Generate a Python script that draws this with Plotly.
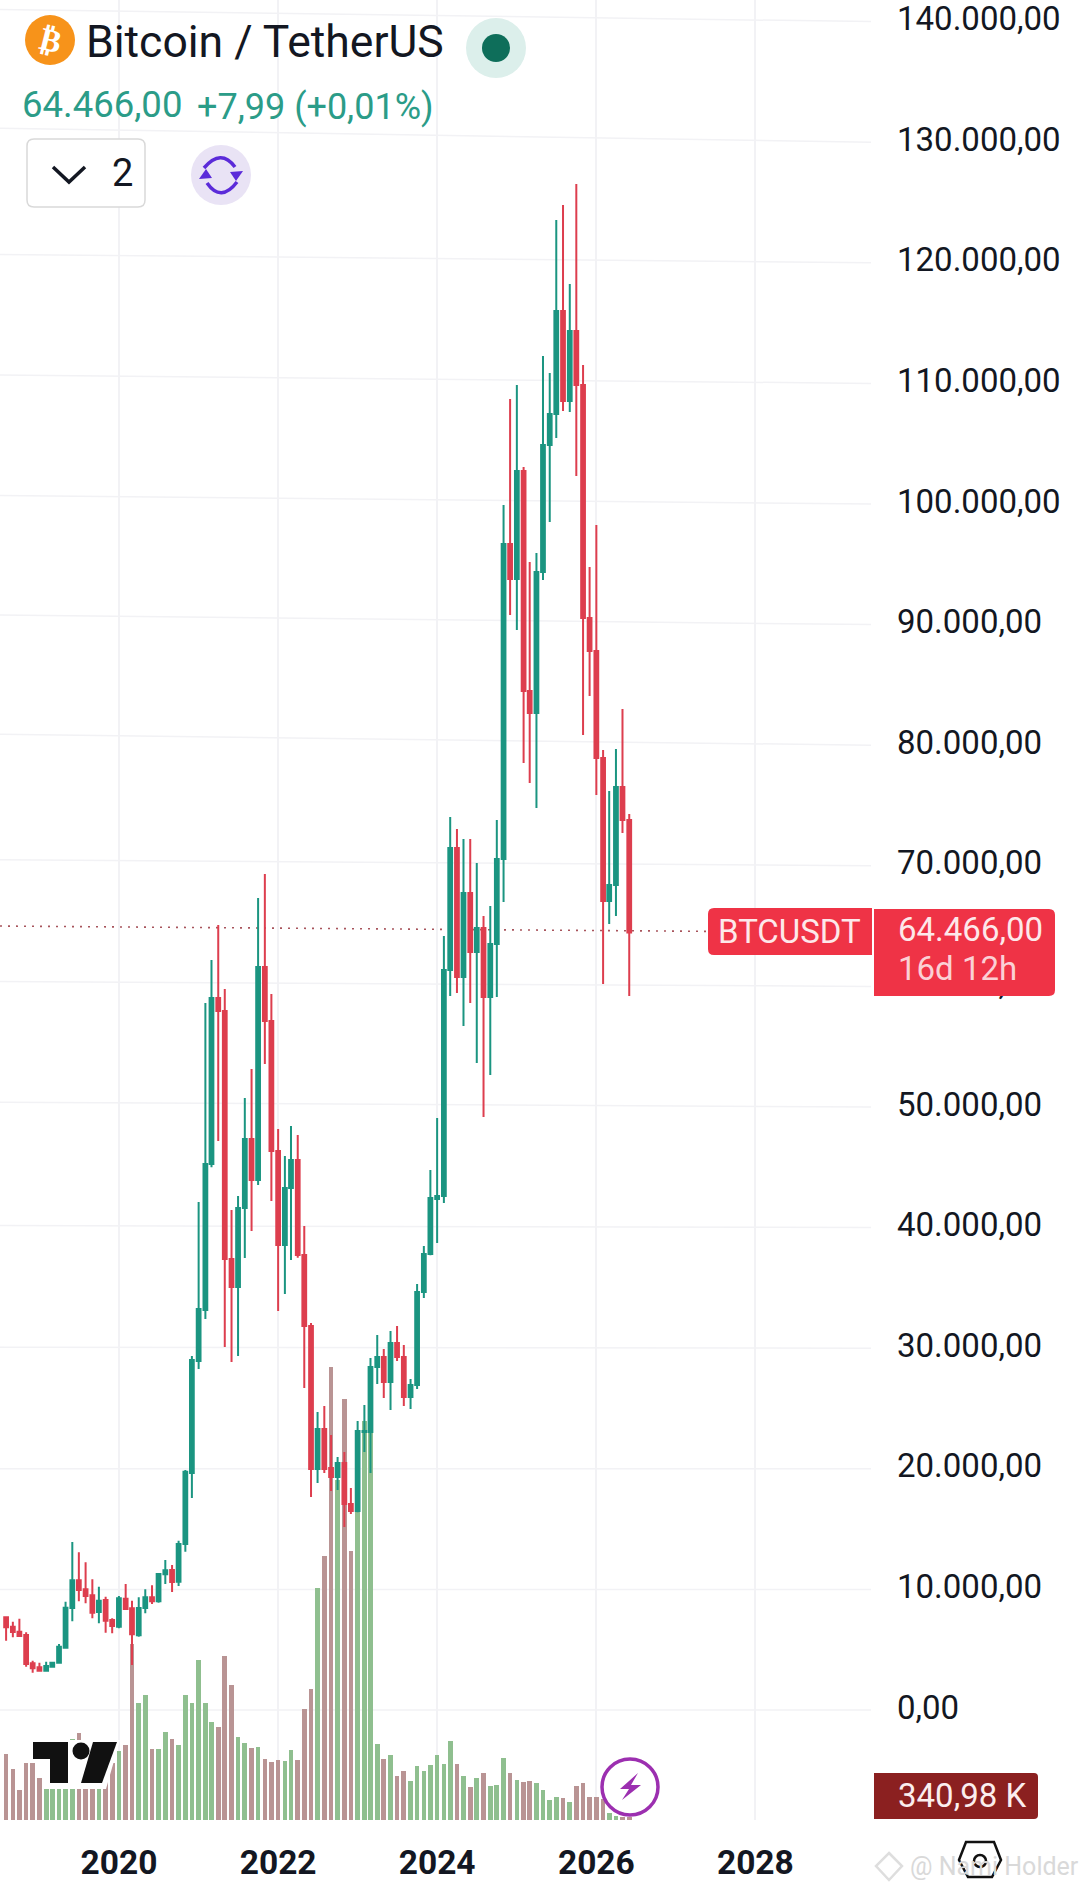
import pandas as pd
import plotly.graph_objects as go

W, H = 1086, 1892
PLOT_R, PLOT_B = 871, 1820

months = pd.date_range("2018-08-01", periods=95, freq="MS")

opens = [7684, 6910, 6495, 6219, 3870,
         3538, 3262, 3593, 3925, 5169, 8458, 10752, 10006, 9508, 8126, 9121, 7463,
         6910, 9232, 8430, 6191, 8458, 9342, 9011, 11249, 11609, 10641, 13765, 19652,
         28939, 33168, 45274, 59039, 57961, 37397, 35075, 41626, 47347, 43948, 61610, 57132,
         46352, 38558, 43284, 45606, 37729, 31841, 19984, 23301, 20067, 19320, 20481, 17082,
         16501, 23052, 23052, 28442, 29271, 27198, 30432, 29271, 25954, 26949, 34661, 37812,
         42372, 42621, 61361, 71477, 60780, 67746, 62853, 64843, 59122, 63517, 70565, 96685,
         93783, 102738, 84495, 82671, 94363, 104894, 107464, 116005, 108542, 114347, 109869, 90549,
         87812, 78940, 67082, 68409, 76535, 73799]
highs = [7700, 7325, 7573, 6440, 4091,
         3925, 4008, 3980, 5473, 8983, 13931, 13074, 12245, 10835, 10227, 9398, 7601,
         9453, 10448, 9066, 9342, 10006, 10337, 11332, 12438, 12023, 14041, 19901, 29354,
         42123, 58624, 62190, 65092, 59785, 41460, 42621, 50747, 53152, 67331, 69321, 59371,
         48177, 45938, 48425, 47679, 40133, 32090, 24710, 25208, 22803, 20979, 21393, 18408,
         23964, 25291, 29188, 31095, 29934, 31427, 31841, 30266, 27447, 35324, 38475, 44777,
         49089, 64180, 74048, 73053, 72223, 72223, 70233, 65838, 66668, 73799, 99919, 108708,
         109869, 103070, 95192, 95938, 112274, 110864, 123551, 124795, 118244, 126536, 111527, 94778,
         98260, 79603, 76203, 79686, 83003, 74296]
lows = [5749, 6026, 6100, 3593, 3096,
        3250, 3250, 3580, 3900, 5150, 7352, 9011, 8845, 7601, 7186, 6412, 6357,
        6772, 8350, 3731, 6081, 8016, 8790, 8900, 10448, 9785, 10282, 13129, 17579,
        28276, 32422, 45000, 47181, 30100, 28856, 29354, 37480, 39719, 43533, 53566, 42206,
        33085, 34495, 37314, 37500, 26700, 17662, 18823, 19652, 18159, 18242, 15174, 16252,
        16400, 21393, 19652, 27032, 25871, 24876, 28939, 25208, 24959, 26617, 34163, 37700,
        38724, 42040, 59205, 59454, 56717, 58624, 53649, 49172, 52654, 59122, 67000, 90797,
        89554, 78525, 76867, 74794, 93700, 98509, 105474, 107713, 107630, 102323, 80847, 84081,
        75872, 60200, 65175, 65838, 72721, 59205]
closes = [6855, 6468, 6136, 3814, 3455,
          3262, 3648, 3925, 5252, 8485, 10752, 9950, 9453, 8071, 9066, 7408, 6965,
          9259, 8375, 6274, 8458, 9342, 9011, 11277, 11581, 10614, 13765, 19763, 29022,
          33251, 45274, 59039, 57961, 37397, 35075, 41626, 47347, 43948, 61610, 57132, 46352,
          38558, 43284, 45606, 37729, 31841, 19984, 23301, 19984, 19320, 20481, 17082, 16501,
          23135, 23135, 28442, 29271, 27198, 30432, 29271, 25954, 26949, 34661, 37812, 42455,
          42621, 61361, 71477, 60780, 67746, 62853, 64843, 59122, 63517, 70565, 96685, 93783,
          102738, 84495, 82671, 94363, 104894, 107464, 116005, 108542, 114347, 109869, 90549, 87812,
          78940, 67082, 68409, 76535, 73799, 64466]
volumes_k = [6570, 5130, 3000, 5670, 5670,
             4230, 3900, 5400, 6400, 7100, 8100, 8700, 6700, 5700, 5700, 4700, 5700,
             6900, 7500, 17600, 11700, 12500, 7100, 7100, 8800, 8100, 7500, 12500, 11700,
             16000, 11700, 9800, 9300, 16400, 13500, 8300, 7700, 7200, 7300, 6100, 5800,
             6000, 5900, 7000, 6000, 11100, 13100, 23200, 26400, 45300, 34000, 42100, 26900,
             34000, 39900, 39000, 7600, 6100, 6500, 4400, 4900, 3900, 5400, 4900, 5500,
             6500, 5600, 7900, 5600, 4400, 3300, 4200, 4700, 3400, 3500, 6200, 4700,
             4000, 3800, 3900, 3700, 3000, 2000, 2300, 2200, 1800, 3400, 3700, 2300,
             2300, 2100, 700, 400, 300, 340.98]

price_ticks = [0, 10000, 20000, 30000, 40000, 50000, 60000, 70000,
               80000, 90000, 100000, 110000, 120000, 130000, 140000]
price_labels = ["0,00", "10.000,00", "20.000,00", "30.000,00", "40.000,00",
                "50.000,00", "60.000,00", "70.000,00", "80.000,00", "90.000,00",
                "100.000,00", "110.000,00", "120.000,00", "130.000,00", "140.000,00"]
# photo is slightly skewed, grid lines sit higher on the left side
grid_skew = [0, 0, 0, 80, 170, 400, 400, 500, 900, 800, 700, 700, 700, 1160, 1000]
year_ticks = ["2020-01-01", "2022-01-01", "2024-01-01", "2026-01-01", "2028-01-01"]
year_labels = ["2020", "2022", "2024", "2026", "2028"]

GREEN = "#1b9581"
RED = "#dd3e4e"
VOL_GREEN = "#8fbf8f"
VOL_RED = "#b99494"
GRID = "#f2f2f5"
INK = "#131722"
TEAL = "#2b9c88"
FONT = "Roboto"


def px(x):
    return x / PLOT_R


def py(y):
    return 1 - y / PLOT_B


def pt(x, y):
    return f"{px(x):.5f},{py(y):.5f}"


def path(points, close=False):
    d = "M" + " L".join(pt(x, y) for x, y in points)
    return d + (" Z" if close else "")


fig = go.Figure()

vol_colors = [VOL_GREEN if c >= o else VOL_RED for o, c in zip(opens, closes)]
fig.add_trace(go.Bar(x=months, y=volumes_k, yaxis="y", width=1.86e9,
                     marker=dict(color=vol_colors, line=dict(width=0)), showlegend=False))
fig.add_trace(go.Candlestick(
    x=months, open=opens, high=highs, low=lows, close=closes, yaxis="y2",
    increasing=dict(line=dict(color=GREEN, width=2), fillcolor=GREEN),
    decreasing=dict(line=dict(color=RED, width=2), fillcolor=RED),
    whiskerwidth=0, showlegend=False,
))

shapes = []
for tick, skew in zip(price_ticks, grid_skew):
    shapes.append(dict(type="line", xref="paper", yref="y2", x0=0, x1=1, y0=tick + skew, y1=tick,
                       line=dict(color=GRID, width=1.5), layer="below"))
# last price, dotted
shapes.append(dict(type="line", xref="paper", yref="y2", x0=0, x1=px(707),
                   y0=closes[-1] + 540, y1=closes[-1] + 100,
                   line=dict(color="#a8545c", width=1.6, dash="2px,6px"), layer="below"))


def circle(cx, cy, r, fill, line_color=None, line_width=0):
    return dict(type="circle", xref="paper", yref="paper", x0=px(cx - r), x1=px(cx + r),
                y0=py(cy + r), y1=py(cy - r), fillcolor=fill,
                line=dict(color=line_color or fill, width=line_width))


def rounded(x0, y0, x1, y1, fill, rl=0, rr=0, line_color=None):
    d = (f"M{pt(x0 + rl, y0)} L{pt(x1 - rr, y0)} Q{pt(x1, y0)} {pt(x1, y0 + rr)} "
         f"L{pt(x1, y1 - rr)} Q{pt(x1, y1)} {pt(x1 - rr, y1)} L{pt(x0 + rl, y1)} "
         f"Q{pt(x0, y1)} {pt(x0, y1 - rl)} L{pt(x0, y0 + rl)} Q{pt(x0, y0)} {pt(x0 + rl, y0)} Z")
    return dict(type="path", xref="paper", yref="paper", path=d, fillcolor=fill,
                line=dict(color=line_color or fill, width=1.5 if line_color else 0))


def poly(points, fill):
    return dict(type="path", xref="paper", yref="paper", path=path(points, True),
                fillcolor=fill, line=dict(width=0))


def stroke(d, color, width):
    return dict(type="path", xref="paper", yref="paper", path=d,
                line=dict(color=color, width=width))


# header icons
shapes += [
    circle(50, 40, 25, "#f7931a"),
    circle(496, 48, 30, "#dcefeb"),
    circle(496, 48, 14, "#0e6e5a"),
    rounded(27, 139, 145, 207, "#ffffff", 7, 7, "#d9d9d9"),
    stroke(path([(53, 167), (69, 182), (85, 167)]), "#131722", 3.5),
    circle(221, 175, 30, "#e9e3f5"),
    stroke(f"M{pt(204, 168)} Q{pt(221, 148)} {pt(235, 167)}", "#5b2bd9", 3.5),
    stroke(f"M{pt(237, 182)} Q{pt(221, 203)} {pt(207, 183)}", "#5b2bd9", 3.5),
    poly([(230, 172), (243, 171), (236, 181)], "#5b2bd9"),
    poly([(212, 178), (199, 179), (206, 169)], "#5b2bd9"),
]
# price labels
shapes += [
    rounded(708, 908, 872, 955, "#ef3346", 6, 0),
    rounded(874, 909, 1055, 996, "#ef3346", 0, 6),
    rounded(874, 1773, 1038, 1819, "#8b2020", 0, 4),
]
# TradingView logo on a white patch, lightning badge, hexagon
shapes += [
    poly([(30, 1740), (120, 1740), (106, 1789), (43, 1789), (43, 1762), (30, 1762)], "#ffffff"),
    poly([(33, 1742), (68, 1742), (68, 1783), (50, 1783), (50, 1759), (33, 1759)], "#111111"),
    circle(81, 1751, 8.5, "#111111"),
    poly([(93, 1742), (117, 1742), (102, 1783), (81, 1783)], "#111111"),
    circle(630, 1787, 28, "#ffffff", "#9c2fb0", 3.5),
    poly([(638, 1773), (620, 1789), (629, 1789), (622, 1800), (641, 1785), (631, 1785)], "#9c2fb0"),
    stroke(path([(980, 1842), (994, 1842), (1001, 1860), (992, 1877), (968, 1877),
                 (959, 1860), (966, 1842)], True), "#111111", 2.5),
    circle(980, 1861, 6, "#ffffff", "#111111", 2.5),
    stroke(path([(889, 1853), (902, 1866), (889, 1880), (876, 1866)], True), "#dedede", 2.5),
]


def label(text, x, y, size, color, anchor="left", weight=400, angle=0):
    return dict(text=text, xref="paper", yref="paper", x=px(x), y=py(y), xanchor=anchor,
                yanchor="middle", showarrow=False, textangle=angle,
                font=dict(family=FONT, size=size, color=color, weight=weight))


annotations = [
    label("₿", 50, 40, 32, "#ffffff", "center", 700, 14),
    label("Bitcoin / TetherUS", 84, 42, 44.5, INK),
    label("64.466,00", 20, 104, 36.5, TEAL),
    label("+7,99 (+0,01%)", 195, 107, 36, TEAL),
    label("2", 122, 173, 38, "#131722", "center"),
    label("BTCUSDT", 716, 932, 33, "#fde8ea"),
    label("64.466,00", 896, 930, 33, "#fde8ea"),
    label("16d 12h", 896, 968, 33, "#fbd0d5"),
    label("340,98 K", 896, 1795, 33, "#fbeeee"),
    label("@ Nami Holder", 908, 1867, 25, "#d9d9d9"),
]

fig.update_layout(
    width=W, height=H,
    margin=dict(l=0, r=W - PLOT_R, t=0, b=H - PLOT_B),
    paper_bgcolor="white", plot_bgcolor="white",
    showlegend=False, bargap=0, boxgap=0.12, dragmode=False,
    font=dict(family=FONT, color=INK),
    shapes=shapes, annotations=annotations,
    xaxis=dict(type="date", range=["2018-07-04", "2029-06-15"], rangeslider=dict(visible=False),
               tickvals=year_ticks, ticktext=year_labels, showgrid=True,
               gridcolor=GRID, gridwidth=1.5, zeroline=False, showline=False, ticklen=0,
               ticklabelstandoff=19, tickfont=dict(family=FONT, size=33.5, color=INK, weight=700)),
    yaxis=dict(range=[0, PLOT_B * 100], visible=False, showgrid=False, zeroline=False),
    yaxis2=dict(range=[-9121, 141793], overlaying="y", side="right", anchor="x",
                tickvals=price_ticks, ticktext=price_labels, showgrid=False, zeroline=False,
                showline=False, ticklen=0, ticklabelstandoff=25, ticklabelshift=-3,
                ticklabeloverflow="allow",
                tickfont=dict(family=FONT, size=33, color=INK)),
)

fig.write_html("out.html", config=dict(displayModeBar=False),
               post_script="document.body.style.margin='0';")
